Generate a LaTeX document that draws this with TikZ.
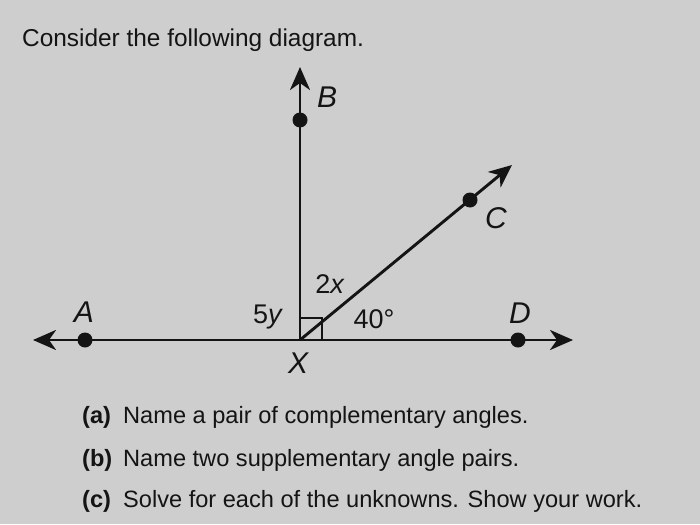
\documentclass[tikz,border=0pt]{standalone}
\usepackage{fontspec}
\setmainfont{Liberation Sans}
\usetikzlibrary{arrows.meta}
\definecolor{bg}{RGB}{206,206,206}
\definecolor{ink}{RGB}{20,20,20}
\tikzset{
  ray/.style={line width=2.9pt, draw=ink, -{Stealth[length=23pt,width=20pt,inset=7pt]}},
  dot/.style={circle, fill=ink, inner sep=0pt, minimum size=15pt},
  ptlabel/.style={inner sep=0pt, anchor=base, text=ink, font=\fontsize{30}{36}\selectfont\itshape},
  anglabel/.style={inner sep=0pt, anchor=base, text=ink, font=\fontsize{27}{32}\selectfont},
  body/.style={inner sep=0pt, anchor=base west, text=ink, font=\fontsize{23.6}{28}\selectfont},
  title/.style={inner sep=0pt, anchor=base west, text=ink, font=\fontsize{24.4}{29}\selectfont},
}
\begin{document}
\begin{tikzpicture}[x=1pt,y=-1pt]
\useasboundingbox (0,0) rectangle (700,524);
\fill[bg] (0,0) rectangle (700,524);

% points
\coordinate (X) at (300,340);
\coordinate (Lend) at (33,340);
\coordinate (Rend) at (573,340);
\coordinate (Bend) at (300,67);
\coordinate (Cend) at (512,165);
\coordinate (R1) at (300,318);
\coordinate (R2) at (322,318);
\coordinate (R3) at (322,340);

% lines
\draw[ray] (X) -- (Lend);
\draw[ray] (X) -- (Rend);
\draw[ray] (X) -- (Bend);
\draw[ray] (X) -- (Cend);
\draw[ink, line width=1.7pt] (R1) -- (R2) -- (R3);

% dots
\node[dot] (A) at (85,340) {};
\node[dot] (D) at (518,340) {};
\node[dot] (B) at (300,120) {};
\node[dot] (C) at (470,200) {};

% point labels
\node[ptlabel] (lA) at (84,322) {A};
\node[ptlabel] (lB) at (327,107) {B};
\node[ptlabel] (lC) at (496,228) {C};
\node[ptlabel] (lD) at (520,323) {D};
\node[ptlabel] (lX) at (298,373) {X};

% angle labels
\node[anglabel] (l5y) at (268,323) {5\textit{y}};
\node[anglabel] (l2x) at (330,293) {2\textit{x}};
\node[anglabel] (l40) at (374,328) {40°};

% text
\node[title] (t0) at (22,47) {Consider the following diagram.};
\node[body] (qa) at (82,423) {\textbf{(a)}};
\node[body] (qat) at (123,423) {Name a pair of complementary angles.};
\node[body] (qb) at (82,466) {\textbf{(b)}};
\node[body] (qbt) at (123,466) {Name two supplementary angle pairs.};
\node[body] (qc) at (82,507) {\textbf{(c)}};
\node[body] (qct) at (123,507) {Solve for each of the unknowns. Show your work.};
\end{tikzpicture}
\end{document}
